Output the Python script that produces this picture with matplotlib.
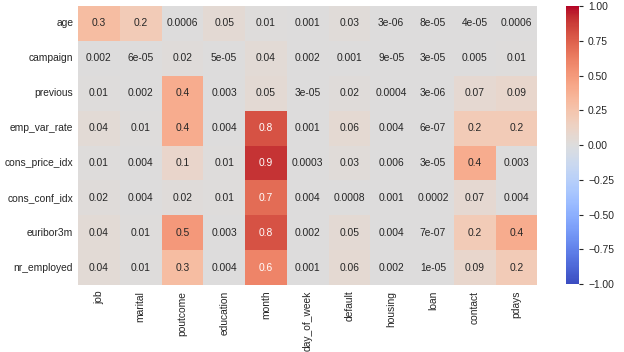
import numpy as np
import matplotlib
matplotlib.use("Agg")
import matplotlib.pyplot as plt
import seaborn as sns

rows = ["age", "campaign", "previous", "emp_var_rate", "cons_price_idx",
        "cons_conf_idx", "euribor3m", "nr_employed"]
cols = ["job", "marital", "poutcome", "education", "month", "day_of_week",
        "default", "housing", "loan", "contact", "pdays"]

age = [0.3, 0.2, 0.0006, 0.05, 0.01, 0.001, 0.03, 3e-06, 8e-05, 4e-05, 0.0006]
campaign = [0.002, 6e-05, 0.02, 5e-05, 0.04, 0.002, 0.001, 9e-05, 3e-05, 0.005, 0.01]
previous = [0.01, 0.002, 0.4, 0.003, 0.05, 3e-05, 0.02, 0.0004, 3e-06, 0.07, 0.09]
emp_var_rate = [0.04, 0.01, 0.4, 0.004, 0.8, 0.001, 0.06, 0.004, 6e-07, 0.2, 0.2]
cons_price_idx = [0.01, 0.004, 0.1, 0.01, 0.9, 0.0003, 0.03, 0.006, 3e-05, 0.4, 0.003]
cons_conf_idx = [0.02, 0.004, 0.02, 0.01, 0.7, 0.004, 0.0008, 0.001, 0.0002, 0.07, 0.004]
euribor3m = [0.04, 0.01, 0.5, 0.003, 0.8, 0.002, 0.05, 0.004, 7e-07, 0.2, 0.4]
nr_employed = [0.04, 0.01, 0.3, 0.004, 0.6, 0.001, 0.06, 0.002, 1e-05, 0.09, 0.2]

vals = np.array([age, campaign, previous, emp_var_rate, cons_price_idx,
                 cons_conf_idx, euribor3m, nr_employed])

sns.set_theme()
plt.rcParams['font.family'] = ['Liberation Sans', 'DejaVu Sans']
fs = 7.4

fig = plt.figure(figsize=(6.24, 3.52), dpi=100)
ax = fig.add_axes([0.125, 0.19, 0.736, 0.793])
cax = fig.add_axes([0.907, 0.193, 0.021, 0.79])

sns.heatmap(vals, ax=ax, cbar_ax=cax, cmap="coolwarm", vmin=-1, vmax=1,
            annot=True, fmt=".1g", annot_kws={"size": fs},
            xticklabels=cols, yticklabels=rows)

ax.tick_params(axis='both', labelsize=fs, length=0)
ax.tick_params(axis='x', pad=4)
ax.set_xticklabels(cols, rotation=90)
ax.set_yticklabels(rows, rotation=0)
cax.tick_params(labelsize=fs, length=3, width=0.8, color='0.15')

fig.savefig("out.png", dpi=100)
